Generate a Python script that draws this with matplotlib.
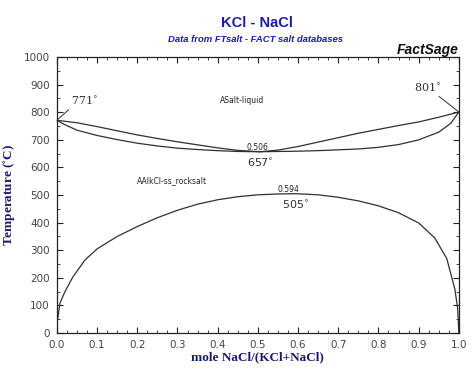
import numpy as np
import matplotlib
matplotlib.use('Agg')
import matplotlib.pyplot as plt
from matplotlib.ticker import MultipleLocator

# liquidus (upper) and solidus (lower) of KCl - NaCl
liq_x = [0.0, 0.05, 0.1, 0.15, 0.2, 0.25, 0.3, 0.35, 0.4, 0.45, 0.506,
         0.55, 0.6, 0.65, 0.7, 0.75, 0.8, 0.85, 0.9, 0.95, 1.0]
liq_T = [771, 762, 748, 733, 718, 705, 693, 682, 671, 662, 657,
         663, 676, 692, 708, 724, 738, 752, 765, 782, 801]

sol_x = [0.0, 0.02, 0.05, 0.1, 0.15, 0.2, 0.25, 0.3, 0.35, 0.4, 0.45, 0.506,
         0.55, 0.6, 0.65, 0.7, 0.75, 0.8, 0.85, 0.9, 0.95, 0.98, 1.0]
sol_T = [771, 755, 735, 716, 701, 688, 678, 670, 665, 661, 658, 657,
         658, 659, 661, 664, 667, 673, 683, 700, 728, 760, 801]

# solvus (rocksalt miscibility gap)
gap_x = [0.0, 0.001, 0.0075, 0.02, 0.04, 0.07, 0.1, 0.15, 0.2, 0.25, 0.3,
         0.35, 0.4, 0.45, 0.5, 0.55, 0.594, 0.65, 0.7, 0.75, 0.8, 0.85,
         0.9, 0.94, 0.97, 0.99, 0.997, 1.0]
gap_T = [0, 40, 108, 150, 204, 265, 305, 350, 386, 418, 445,
         467, 483, 494, 501, 504, 505, 501, 492, 479, 461, 436,
         399, 345, 270, 160, 90, 0]

navy = '#1a1a6e'
blue = '#1c1cb0'
line_c = '#303030'

fig = plt.figure(figsize=(4.74, 3.73), dpi=100)
ax = fig.add_axes([0.120, 0.107, 0.848, 0.740])

ax.plot(liq_x, liq_T, color=line_c, lw=0.9)
ax.plot(sol_x, sol_T, color=line_c, lw=0.9)
ax.plot(gap_x, gap_T, color=line_c, lw=0.9)

ax.set_xlim(0, 1)
ax.set_ylim(0, 1000)
ax.xaxis.set_major_locator(MultipleLocator(0.1))
ax.xaxis.set_minor_locator(MultipleLocator(0.025))
ax.yaxis.set_major_locator(MultipleLocator(100))
ax.yaxis.set_minor_locator(MultipleLocator(50))
ax.set_xticks(np.arange(0, 1.01, 0.1))
ax.set_xticklabels(['%.1f' % v for v in np.arange(0, 1.01, 0.1)])
ax.tick_params(which='both', direction='in', top=True, right=True,
               labelsize=7.5, labelcolor='#444444', color='#222222', pad=5)
ax.tick_params(which='major', length=4, width=0.8)
ax.tick_params(which='minor', length=2, width=0.6)
for s in ax.spines.values():
    s.set_linewidth(0.9)
    s.set_color('#222222')

ax.set_xlabel('mole NaCl/(KCl+NaCl)', family='Liberation Serif', fontweight='bold',
              fontsize=9.5, color=navy, labelpad=1)
ax.set_ylabel('Temperature ($\\mathregular{^{\\circ}}$C)', family='Liberation Serif',
              fontweight='bold', fontsize=9.5, color=navy)
ax.yaxis.set_label_coords(-0.1, 0.5)

# annotations
txt = dict(fontsize=8, color='#333333', family='DejaVu Sans')
ax.annotate('771$^{\\circ}$', xy=(0, 771), xytext=(0.036, 818), fontsize=8,
            color='#333333', family='DejaVu Serif',
            arrowprops=dict(arrowstyle='-', color=line_c, lw=0.7, shrinkA=0,
                            shrinkB=0, relpos=(0, 0)),
            va='bottom', ha='left')
ax.annotate('801$^{\\circ}$', xy=(1, 801), xytext=(0.955, 868), fontsize=8,
            color='#333333', family='DejaVu Serif',
            arrowprops=dict(arrowstyle='-', color=line_c, lw=0.7, shrinkA=0,
                            shrinkB=0, relpos=(0.8, 0)),
            va='bottom', ha='right')
ax.text(0.406, 842, 'ASalt-liquid', fontsize=5.5, color='#222222', va='center')
ax.text(0.472, 672, '0.506', fontsize=5.5, color='#222222', va='center')
ax.text(0.474, 617, '657$^{\\circ}$', **txt, va='center')
ax.text(0.198, 553, 'AAlkCl-ss_rocksalt', fontsize=5.5, color='#222222', va='center')
ax.text(0.55, 522, '0.594', fontsize=5.5, color='#222222', va='center')
ax.text(0.56, 465, '505$^{\\circ}$', **txt, va='center')

fig.text(0.543, 0.938, 'KCl - NaCl', ha='center', va='center', fontsize=10.5,
         fontweight='bold', color=blue, family='Liberation Sans')
fig.text(0.54, 0.893, 'Data from FTsalt - FACT salt databases', ha='center',
         va='center', fontsize=6.8, fontweight='bold', style='italic', color=blue,
         family='Liberation Sans')
fig.text(0.967, 0.866, 'FactSage', ha='right', va='center', fontsize=10,
         fontweight='bold', style='italic', color='#111111', family='Liberation Sans')

fig.savefig('out.png', dpi=100, facecolor='white')
